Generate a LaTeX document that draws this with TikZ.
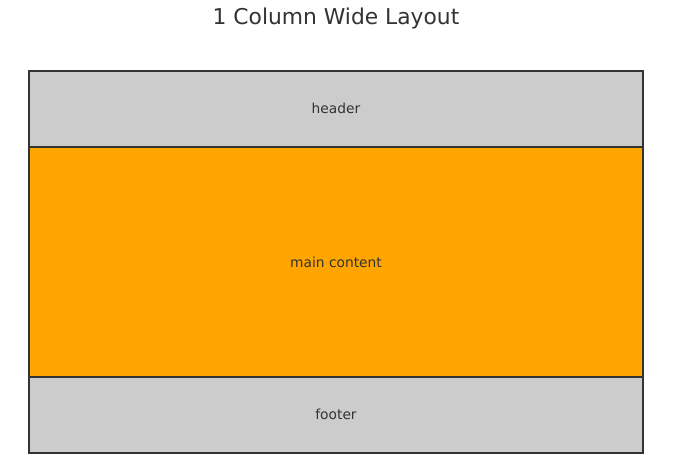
\documentclass[tikz,border=0pt]{standalone}
\usepackage{fontspec}
\setmainfont{DejaVu Sans}
\definecolor{boxgray}{HTML}{CCCCCC}
\definecolor{mainorange}{HTML}{FFA500}
\definecolor{edgegray}{HTML}{333333}
\definecolor{textgray}{HTML}{333333}
\begin{document}
\begin{tikzpicture}[x=1pt,y=-1pt,
  region/.style={draw=edgegray,line width=1.1pt,inner sep=0pt,outer sep=0pt},
  lbl/.style={text=textgray,font=\fontsize{13.8}{16}\selectfont},
  ttl/.style={text=textgray,font=\fontsize{21.8}{26}\selectfont}]
\useasboundingbox (0,0) rectangle (682,474);
\fill[white] (0,0) rectangle (682,474);
\path[region,fill=boxgray] (29,71) rectangle (643,147);
\path[region,fill=mainorange] (29,147) rectangle (643,377);
\path[region,fill=boxgray] (29,377) rectangle (643,453);
\node[lbl] (header) at (336,108) {header};
\node[lbl] (main) at (336,262) {main content};
\node[lbl] (footer) at (336,414) {footer};
\node[ttl] (title) at (336,18) {1 Column Wide Layout};
\end{tikzpicture}
\end{document}
